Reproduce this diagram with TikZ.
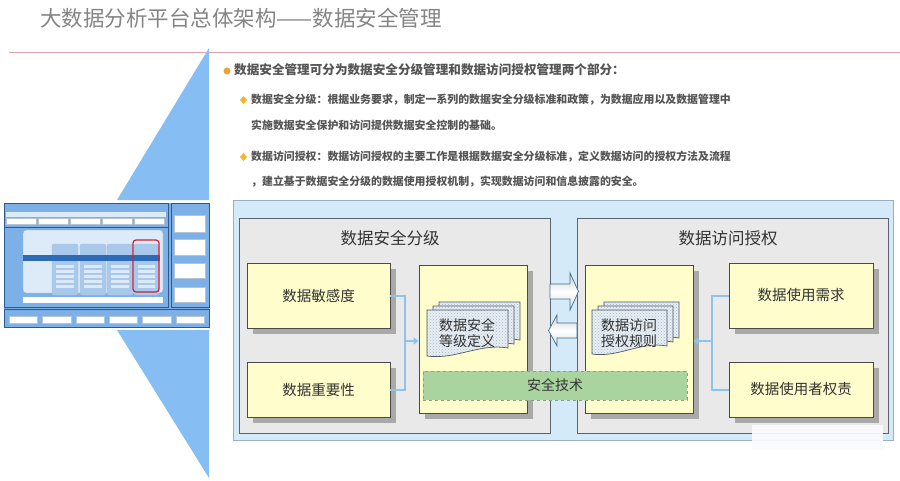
\documentclass[tikz,border=0pt]{standalone}
\usepackage{fontspec}
\setmainfont{Noto Sans CJK SC}
\usetikzlibrary{patterns,arrows.meta,shadows}
\definecolor{titlegray}{HTML}{858585}
\definecolor{redrule}{HTML}{E3A3AB}
\definecolor{bulletor}{HTML}{F0A236}
\definecolor{txtgray}{HTML}{555555}
\definecolor{funnel}{HTML}{86BEF4}
\definecolor{outerfill}{HTML}{D5EAF8}
\definecolor{outerline}{HTML}{9AAFC0}
\definecolor{panelfill}{HTML}{E9E9E9}
\definecolor{panelline}{HTML}{5A6470}
\definecolor{yfill}{HTML}{FFFDCB}
\definecolor{yline}{HTML}{4A4A4A}
\definecolor{shadowc}{HTML}{A9A9A9}
\definecolor{greenfill}{HTML}{A9D4A0}
\definecolor{greenline}{HTML}{7FA87A}
\definecolor{connc}{HTML}{8CC4EE}
\definecolor{docfill}{HTML}{E8EEF4}
\definecolor{docdot}{HTML}{A8B8C8}
\definecolor{docline}{HTML}{4C5864}
\definecolor{arrline}{HTML}{3E6F98}
\definecolor{thblue}{HTML}{7CB0E6}
\definecolor{thdark}{HTML}{2A5A90}
\definecolor{thlight}{HTML}{DDEBF9}
\definecolor{thcol}{HTML}{A9C9EC}
\definecolor{throw}{HTML}{2D6BB6}
\definecolor{thred}{HTML}{CF2030}
\definecolor{labtext}{HTML}{333333}
\newcommand\docsheet[4]{%
  \pgfmathsetmacro\dsr{#1+#3}%
  \pgfmathsetmacro\dsb{#2+#4}%
  \filldraw[draw=docline, line width=0.7pt, preaction={fill=docfill}, pattern=crosshatch dots, pattern color=docdot]
    (#1,#2) -- (\dsr,#2) -- (\dsr,\dsb-9) .. controls (#1+0.65*#3,\dsb-14) and (#1+0.35*#3,\dsb+3) .. (#1,\dsb-1) -- cycle;
}
\tikzset{
  ybox/.style={draw=yline, fill=yfill, line width=0.8pt, inner sep=0pt,
    drop shadow={shadow xshift=6pt, shadow yshift=-6pt, fill=shadowc, opacity=1},
    font=\fontsize{14.5}{16}\selectfont, text=labtext},
  panelbox/.style={draw=panelline, fill=panelfill, line width=0.8pt, inner sep=0pt},
  ptitle/.style={font=\fontsize{16.5}{18}\selectfont, text=labtext, inner sep=0pt},
  greenbox/.style={draw=greenline, fill=greenfill, dashed, line width=0.6pt, inner sep=0pt,
    font=\fontsize{14}{16}\selectfont, text=labtext},
  conn/.style={draw=connc, line width=2pt},
  doctext/.style={font=\fontsize{14}{15.5}\selectfont, text=labtext, align=center, inner sep=0pt},
  blockarr/.style={draw=arrline, line width=0.7pt, top color=black!20, bottom color=black!15, middle color=white},
  bodytext/.style={anchor=west, inner sep=0pt, text=txtgray, font=\fontsize{10.9}{12}\selectfont\bfseries},
  thbox/.style={fill=white, draw=thdark!35, line width=0.3pt},
}
\begin{document}
\begin{tikzpicture}[x=1pt,y=-1pt]
\useasboundingbox (0,0) rectangle (900,480);
\fill[white] (0,0) rectangle (900,480);
% title
\node[anchor=west, inner sep=0pt, text=titlegray, font=\fontsize{21.5}{24}\selectfont] (title) at (40,18) {大数据分析平台总体架构——数据安全管理};
\draw[redrule, line width=1pt] (9,52) -- (900,52);
% funnel
\fill[funnel] (209,48) -- (117,200) -- (209,200) -- cycle;
\fill[funnel] (117,330) -- (209,330) -- (209,478) -- cycle;
% thumbnail
\fill[thblue] (4,203) rectangle (209,327);
\filldraw[fill=thblue, draw=thdark, line width=0.8pt] (4,203) rectangle (168,307);
\filldraw[fill=thblue, draw=thdark, line width=0.8pt] (171,203) rectangle (209,307);
\filldraw[fill=thblue, draw=thdark, line width=0.8pt] (4,309) rectangle (209,327);
\fill[thlight] (6,212) rectangle (166,217);
\foreach \i in {0,...,4} { \filldraw[thbox] (6+32*\i,218) rectangle (36+32*\i,224); }
\draw[thdark, line width=1pt] (4,227) -- (168,227);
\filldraw[fill=thlight, draw=thdark!50, rounded corners=3pt, line width=0.4pt] (23,230) rectangle (163,293);
\foreach \a/\b in {52/78,80/106,107/133,134/159} {
  \filldraw[fill=thcol, draw=thdark!40, rounded corners=2pt, line width=0.3pt] (\a,244) rectangle (\b,295);
  \foreach \k in {0,...,4} { \fill[white!60!thcol] (\a+4,265+5*\k) rectangle (\b-4,268+5*\k); }
}
\fill[throw] (23,255) rectangle (160,261);
\draw[thred, line width=1.2pt, rounded corners=3pt] (133,240) rectangle (159,292);
\fill[white] (23,297) rectangle (163,303);
\foreach \a/\b in {215/232,239/255,263/278,287/302} { \filldraw[thbox] (174,\a) rectangle (205,\b); }
\foreach \i in {0,...,5} { \filldraw[thbox] (9.3+33.3*\i,316) rectangle (37.6+33.3*\i,323); }
% bullet text
\fill[bulletor] (227,71) circle (3.5pt);
\node[anchor=west, inner sep=0pt, text=txtgray, font=\fontsize{12.6}{14}\selectfont\bfseries] (l1) at (234,70) {数据安全管理可分为数据安全分级管理和数据访问授权管理两个部分：};
\fill[bulletor!80!yellow] (243.5,96) -- (247,100) -- (243.5,104) -- (240,100) -- cycle;
\fill[bulletor!80!yellow] (243.5,153) -- (247,157) -- (243.5,161) -- (240,157) -- cycle;
\node[bodytext] (l2) at (251,100) {数据安全分级：根据业务要求，制定一系列的数据安全分级标准和政策，为数据应用以及数据管理中};
\node[bodytext] (l3) at (251,125) {实施数据安全保护和访问提供数据安全控制的基础。};
\node[bodytext] (l4) at (251,157) {数据访问授权：数据访问授权的主要工作是根据数据安全分级标准，定义数据访问的授权方法及流程};
\node[bodytext] (l5) at (251,182) {，建立基于数据安全分级的数据使用授权机制，实现数据访问和信息披露的安全。};
% main diagram
\node[draw=outerline, fill=outerfill, line width=0.8pt, minimum width=660pt, minimum height=240pt, inner sep=0pt] (outer) at (563,320) {};
\node[panelbox, minimum width=311pt, minimum height=215pt] (lp) at (394.5,325.5) {};
\node[panelbox, minimum width=311pt, minimum height=215pt] (rp) at (732.5,325.5) {};
\node[ptitle] (lt) at (390,238) {数据安全分级};
\node[ptitle] (rt) at (728,238) {数据访问授权};
\node[ybox, minimum width=143pt, minimum height=65pt] (sens) at (318.5,295.5) {数据敏感度};
\node[ybox, minimum width=143pt, minimum height=55pt] (imp) at (318.5,389.5) {数据重要性};
\node[ybox, minimum width=108pt, minimum height=148pt] (lmid) at (473,339) {};
\node[ybox, minimum width=108pt, minimum height=148pt] (rmid) at (639,339) {};
\node[ybox, minimum width=144pt, minimum height=65pt] (need) at (801,295.5) {数据使用需求};
\node[ybox, minimum width=144pt, minimum height=55pt] (duty) at (801,389.5) {数据使用者权责};
% connectors
\coordinate (lj) at (405,341);
\coordinate (rj) at (712,341);
\draw[conn] (sens.east) -| (lj) |- (imp.east);
\draw[conn, -{Triangle[width=7pt,length=5pt]}] (lj) -- (lmid.west |- lj);
\draw[conn] (need.west) -| (rj) |- (duty.west);
\draw[conn, -{Triangle[width=7pt,length=5pt]}] (rj) -- (rmid.east |- rj);
% green band
\node[greenbox, minimum width=264pt, minimum height=29pt] (sec) at (555,385.5) {安全技术};
% document stacks
\docsheet{439}{302}{81}{47}
\docsheet{433}{306}{81}{47}
\docsheet{427}{310}{81}{47}
\node[doctext] (d1) at (467,333) {数据安全\\等级定义};
\docsheet{604}{302}{75}{45}
\docsheet{598}{306}{75}{45}
\docsheet{592}{310}{75}{45}
\node[doctext] (d2) at (629,333) {数据访问\\授权规则};
% block arrows
\path[blockarr] (550,284) -- (570,284) -- (570,273) -- (578.5,291.5) -- (570,310) -- (570,299) -- (550,299) -- cycle;
\path[blockarr] (577,323) -- (557,323) -- (557,315) -- (548.5,330.5) -- (557,346) -- (557,338) -- (577,338) -- cycle;
% white patch
\fill[white!94!black!60!blue!4, opacity=0.92] (752,425) rectangle (883,450);
\end{tikzpicture}
\end{document}
